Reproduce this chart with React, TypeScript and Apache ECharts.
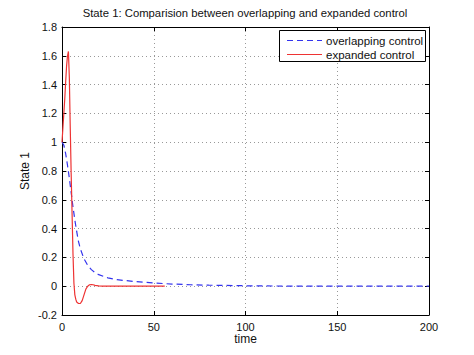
import React, { useEffect, useRef } from "react";
import * as echarts from "echarts";

const titleText = "State 1: Comparision between overlapping and expanded control";
const seriesNames = ["overlapping control", "expanded control"];

const overlapT = [0, 1, 2, 3, 4, 5, 6, 7, 8, 9, 10, 12, 14, 16, 18, 20, 25, 30, 40, 50, 60, 70, 80, 100, 120, 150, 200];
const overlapV = [1.0, 0.98, 0.92, 0.84, 0.75, 0.65, 0.55, 0.46, 0.38, 0.31, 0.26, 0.19, 0.145, 0.115, 0.095, 0.08, 0.058, 0.045, 0.032, 0.022, 0.015, 0.01, 0.007, 0.003, 0.001, 0, 0];

const expandT = [0, 0.5, 1, 1.5, 2, 2.5, 3, 3.5, 4, 4.5, 5, 5.5, 6, 6.5, 7, 7.5, 8, 9, 10, 11, 12, 13, 14, 15, 16, 17, 18, 20, 22, 25, 30, 40, 56];
const expandV = [1.0, 1.1, 1.2, 1.3, 1.42, 1.53, 1.6, 1.63, 1.45, 1.1, 0.78, 0.5, 0.22, 0.02, -0.06, -0.09, -0.11, -0.12, -0.12, -0.1, -0.06, -0.02, 0.0, 0.01, 0.012, 0.01, 0.006, 0.002, 0, 0, 0, 0, 0];

const xTicks = { min: 0, max: 200, interval: 50 };
const yTicks = { min: -0.2, max: 1.8, interval: 0.2 };

const blue = "#3333ee";
const red = "#ee3333";

export default function App() {
  const ref = useRef<HTMLDivElement>(null);
  useEffect(() => {
    if (!ref.current) return;
    const chart = echarts.init(ref.current, undefined, { renderer: "svg" });
    const font = "'Liberation Sans', Arial, sans-serif";
    const gridLine = { show: true, lineStyle: { type: [1, 3], color: "#999", width: 1 } };
    const tick = { show: true, inside: true, length: 4, lineStyle: { color: "#000" } };
    const line = { show: true, onZero: false, lineStyle: { color: "#000", width: 1 } };
    const legendText = { fontFamily: font, fontSize: 11.5, fill: "#111", textVerticalAlign: "middle" };
    chart.setOption({
      animation: false,
      backgroundColor: "#fff",
      graphic: [
        {
          type: "text",
          x: 245,
          y: 13,
          style: {
            text: titleText,
            fontFamily: font,
            fontSize: 11.3,
            fill: "#111",
            textAlign: "center",
            textVerticalAlign: "middle",
          },
        },
        { type: "rect", z: 100, shape: { x: 279.5, y: 30.5, width: 146, height: 31 }, style: { fill: "#fff", stroke: "#000", lineWidth: 1 } },
        { type: "line", z: 101, shape: { x1: 287, y1: 40.5, x2: 322, y2: 40.5 }, style: { stroke: blue, lineWidth: 1.2, lineDash: [6, 4] } },
        { type: "text", z: 101, x: 326, y: 40.5, style: { text: seriesNames[0], ...legendText } },
        { type: "line", z: 101, shape: { x1: 287, y1: 54.5, x2: 322, y2: 54.5 }, style: { stroke: red, lineWidth: 1.2 } },
        { type: "text", z: 101, x: 326, y: 54.5, style: { text: seriesNames[1], ...legendText } },
      ],
      grid: { left: 62, right: 45, top: 27, bottom: 40, containLabel: false },
      xAxis: [
        {
          type: "value",
          ...xTicks,
          name: "time",
          nameLocation: "middle",
          nameGap: 18,
          nameMoveOverlap: false,
          nameTextStyle: { fontFamily: font, fontSize: 12, color: "#111" },
          axisLine: line,
          axisTick: tick,
          axisLabel: { fontFamily: font, fontSize: 11, color: "#111", margin: 6 },
          splitLine: gridLine,
        },
        {
          type: "value",
          position: "top",
          ...xTicks,
          axisLine: line,
          axisTick: tick,
          axisLabel: { show: false },
          splitLine: { show: false },
        },
      ],
      yAxis: [
        {
          type: "value",
          ...yTicks,
          name: "State 1",
          nameLocation: "middle",
          nameGap: 31,
          nameMoveOverlap: false,
          nameTextStyle: { fontFamily: font, fontSize: 12, color: "#111" },
          axisLine: line,
          axisTick: tick,
          axisLabel: {
            fontFamily: font,
            fontSize: 11,
            color: "#111",
            margin: 5,
            formatter: (v: number) => String(Math.round(v * 10) / 10),
          },
          splitLine: gridLine,
        },
        {
          type: "value",
          position: "right",
          ...yTicks,
          axisLine: line,
          axisTick: tick,
          axisLabel: { show: false },
          splitLine: { show: false },
        },
      ],
      series: [
        {
          name: seriesNames[0],
          type: "line",
          showSymbol: false,
          symbol: "none",
          data: overlapT.map((t, i) => [t, overlapV[i]]),
          lineStyle: { color: blue, width: 1.2, type: [6, 4] },
          itemStyle: { color: blue },
          z: 3,
        },
        {
          name: seriesNames[1],
          type: "line",
          showSymbol: false,
          symbol: "none",
          data: expandT.map((t, i) => [t, expandV[i]]),
          lineStyle: { color: red, width: 1.2 },
          itemStyle: { color: red },
          z: 4,
        },
      ],
    });
    return () => chart.dispose();
  }, []);
  return <div ref={ref} style={{ width: 474, height: 355, position: "absolute", left: 0, top: 0 }} />;
}
